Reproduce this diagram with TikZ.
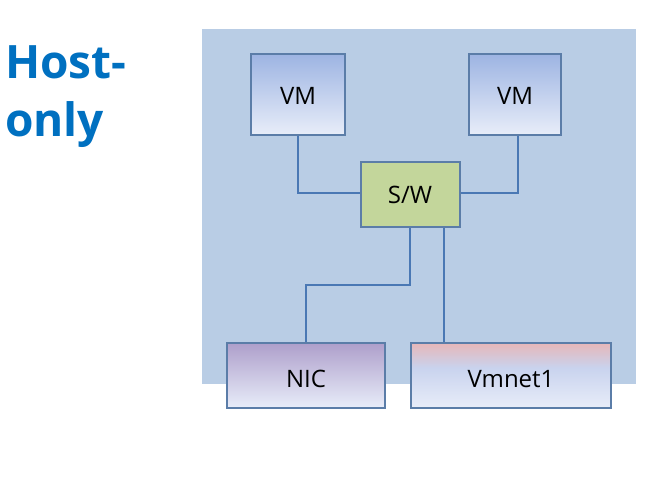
\documentclass[tikz,border=0pt]{standalone}
\usepackage{fontspec}
\setmainfont{Open Sans}
\begin{document}
\begin{tikzpicture}[x=1pt,y=-1pt,
  box/.style={draw=edge,line width=1.8pt},
  lab/.style={font=\fontsize{24}{28}\selectfont},
  wire/.style={draw=wirec,line width=2.4pt}]
\definecolor{bg}{HTML}{B9CDE5}
\definecolor{edge}{HTML}{5B7DA8}
\definecolor{wirec}{HTML}{4A78B4}
\definecolor{vmtop}{HTML}{9DB4E2}
\definecolor{vmbot}{HTML}{E8EDF9}
\definecolor{sw}{HTML}{C3D69B}
\definecolor{nictop}{HTML}{AE9FCB}
\definecolor{vntop}{HTML}{E6B7B9}
\definecolor{vnmid}{HTML}{C9D3EE}
\definecolor{ttl}{HTML}{0070C0}
\useasboundingbox (0,0) rectangle (663,497);
\fill[bg] (202,29) rectangle (636,384);
\draw[box,top color=vmtop,bottom color=vmbot] (251,54) rectangle (345,135);
\node[lab] (vm1) at (298,96) {VM};
\draw[box,top color=vmtop,bottom color=vmbot] (469,54) rectangle (561,135);
\node[lab] (vm2) at (515,96) {VM};
\draw[box,fill=sw] (361,162) rectangle (460,227);
\node[lab] (sw) at (410,195) {S/W};
\draw[box,top color=nictop,bottom color=vmbot] (227,343) rectangle (385,408);
\node[lab] (nic) at (306,379) {NIC};
\fill[top color=vntop,bottom color=vnmid] (411,343) rectangle (611,368);
\fill[top color=vnmid,bottom color=vmbot] (411,368) rectangle (611,408);
\draw[box] (411,343) rectangle (611,408);
\node[lab] (vn) at (511,379) {Vmnet1};
\coordinate (a1) at (298,136); \coordinate (a2) at (360,193);
\coordinate (b1) at (518,136); \coordinate (b2) at (461,193);
\coordinate (c1) at (410,228); \coordinate (c2) at (306,342);
\coordinate (d1) at (444,228); \coordinate (d2) at (444,342);
\draw[wire] (a1) |- (a2);
\draw[wire] (b1) |- (b2);
\draw[wire] (c1) -- (410,285) -| (c2);
\draw[wire] (d1) -- (d2);
\node[anchor=north west,align=left,text=ttl,font=\bfseries\fontsize{46}{58}\selectfont,inner sep=0] (t) at (5,45) {Host-\\only};
\end{tikzpicture}
\end{document}
